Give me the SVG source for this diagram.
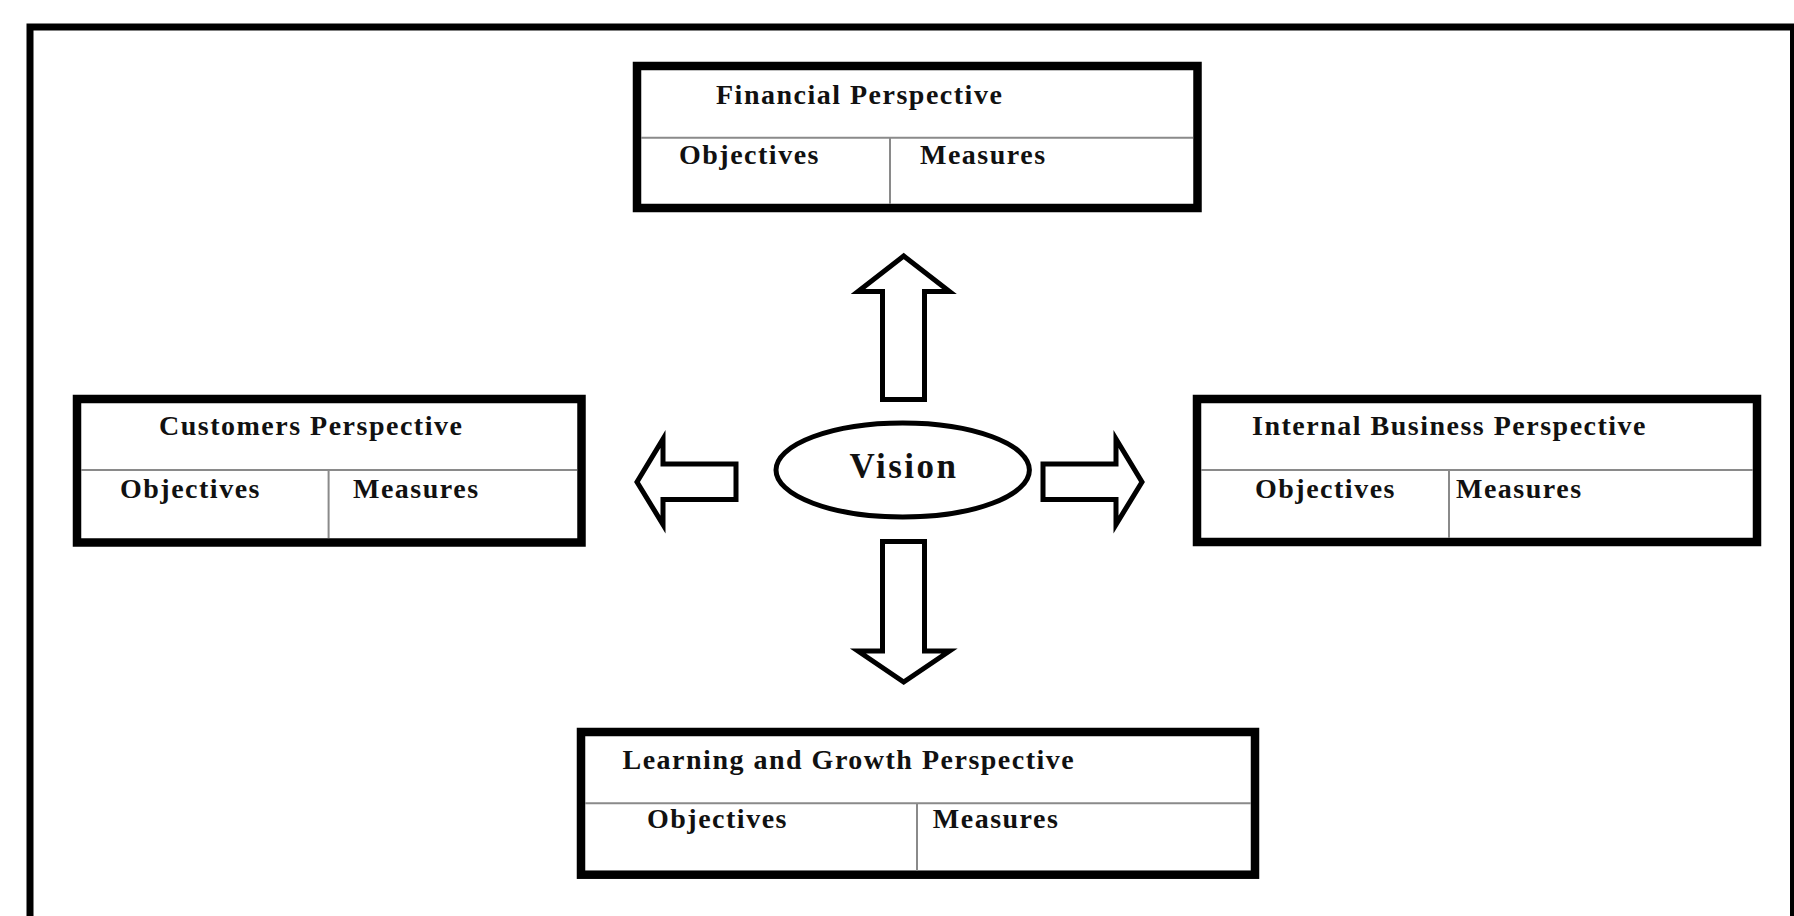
<svg xmlns="http://www.w3.org/2000/svg" width="1794" height="916" viewBox="0 0 1794 916">
<style>
.box{fill:#fff;stroke:#000;stroke-width:8.5}
.div{stroke:#8a8a8a;stroke-width:2;fill:none}
.t{font-family:"Liberation Serif","Times New Roman",serif;font-weight:bold;font-size:28px;letter-spacing:1.5px;fill:#111}
.v{font-family:"Liberation Serif","Times New Roman",serif;font-weight:bold;font-size:35px;letter-spacing:2.5px;fill:#111}
.arr{fill:#fff;stroke:#000;stroke-width:5;stroke-linejoin:miter;stroke-miterlimit:10}
</style>
<rect x="0" y="0" width="1794" height="916" fill="#fff"/>
<rect x="30" y="27" width="1763.5" height="930" fill="none" stroke="#000" stroke-width="7"/>

<g id="financial">
<rect class="box" x="637" y="66" width="560.5" height="142"/>
<line class="div" x1="641" y1="137.7" x2="1193" y2="137.7"/>
<line class="div" x1="890" y1="137.7" x2="890" y2="204"/>
<text class="t" x="716" y="104">Financial Perspective</text>
<text class="t" x="679" y="164">Objectives</text>
<text class="t" x="920" y="164">Measures</text>
</g>

<g id="customers">
<rect class="box" x="77" y="399" width="504.5" height="143.5"/>
<line class="div" x1="81" y1="470" x2="577" y2="470"/>
<line class="div" x1="328.6" y1="470" x2="328.6" y2="538"/>
<text class="t" x="159" y="435">Customers Perspective</text>
<text class="t" x="120" y="498">Objectives</text>
<text class="t" x="353" y="498">Measures</text>
</g>

<g id="internal">
<rect class="box" x="1197" y="399" width="560" height="143"/>
<line class="div" x1="1201" y1="470" x2="1753" y2="470"/>
<line class="div" x1="1449" y1="470" x2="1449" y2="538"/>
<text class="t" x="1252" y="435">Internal Business Perspective</text>
<text class="t" x="1255" y="498">Objectives</text>
<text class="t" x="1456" y="498">Measures</text>
</g>

<g id="learning">
<rect class="box" x="581" y="732" width="674" height="142.7"/>
<line class="div" x1="585" y1="803.3" x2="1251" y2="803.3"/>
<line class="div" x1="917" y1="803.3" x2="917" y2="870.5"/>
<text class="t" x="622.5" y="769">Learning and Growth Perspective</text>
<text class="t" x="647" y="828">Objectives</text>
<text class="t" x="932.8" y="828">Measures</text>
</g>

<g id="vision">
<ellipse cx="902.7" cy="470" rx="126.7" ry="47" fill="#fff" stroke="#000" stroke-width="5"/>
<text class="v" x="904" y="478" text-anchor="middle">Vision</text>
</g>

<g id="connectors">
<path class="arr" d="M882.5 399.5 L882.5 291.5 L858 291.5 L903.7 256 L949.5 291.5 L924.5 291.5 L924.5 399.5 Z"/>
<path class="arr" d="M882.5 541.5 L882.5 651 L858 651 L903.7 682 L949.5 651 L924.5 651 L924.5 541.5 Z"/>
<path class="arr" d="M736 464 L663 464 L663 439 L637 482 L663 524.5 L663 499.5 L736 499.5 Z"/>
<path class="arr" d="M1043 464 L1116 464 L1116 439 L1142 482 L1116 524.5 L1116 499.5 L1043 499.5 Z"/>
</g>
</svg>
